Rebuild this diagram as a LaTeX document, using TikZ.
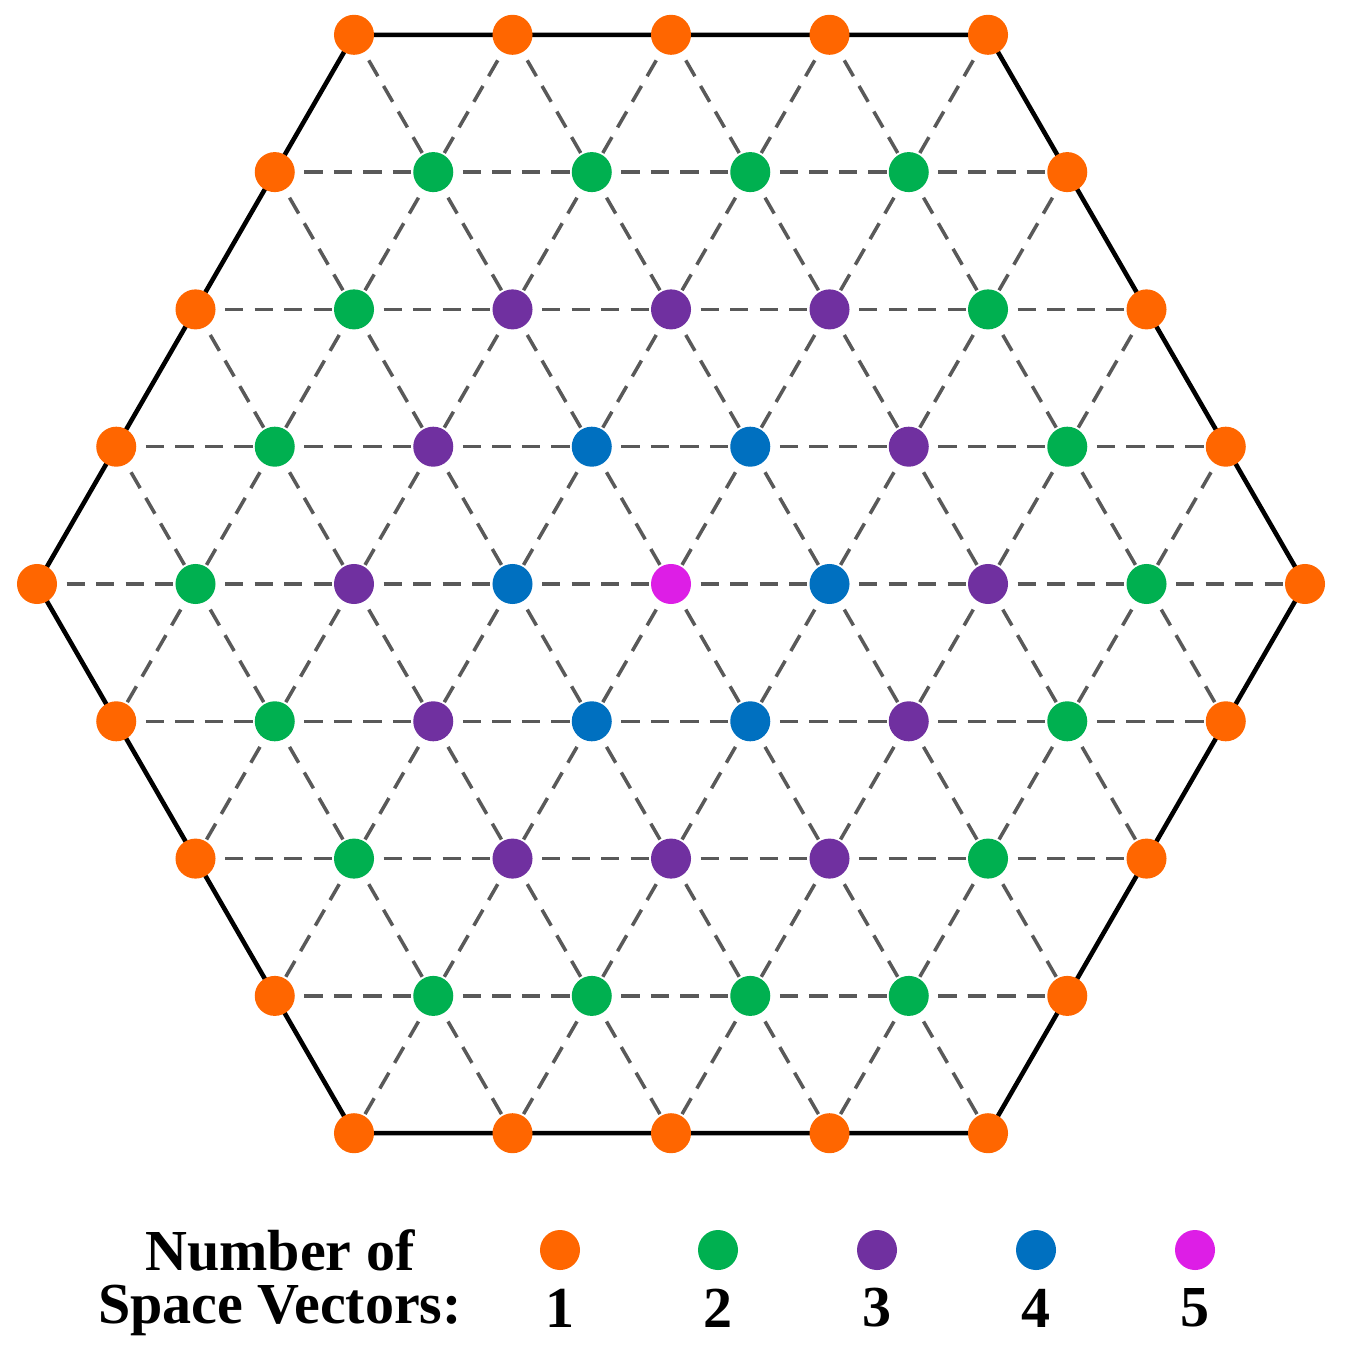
\documentclass[tikz,border=0pt]{standalone}
\usepackage{fontspec}
\setmainfont{Liberation Serif}
\definecolor{c1}{HTML}{FF6600}
\definecolor{c2}{HTML}{00B050}
\definecolor{c3}{HTML}{7030A0}
\definecolor{c4}{HTML}{0070C0}
\definecolor{c5}{HTML}{DD1EE6}
\begin{document}
\begin{tikzpicture}[x=0.01cm,y=-0.01cm,
  dot/.style={circle,fill=#1,inner sep=0pt,minimum size=40\pgflinewidth/1pt*0.01cm},
  pdot/.style={circle,fill=#1,inner sep=0pt,minimum size=0.4cm},
  lat/.style={draw=black!65,line width=1pt,dash pattern=on 5.2pt off 3.2pt},
  bnd/.style={draw=black,line width=1.3pt},
  lbl/.style={font=\bfseries\fontsize{16.5pt}{17pt}\selectfont,inner sep=0pt}]
\useasboundingbox (0,0) rectangle (1344,1355);
% coordinates
\foreach \q in {-4,...,4}{
  \foreach \r in {-4,...,4}{
    \pgfmathtruncatemacro\d{max(abs(\q),abs(\r),abs(\q+\r))}
    \ifnum\d<5
      \coordinate (p\q_\r) at ({671+158.5*(\q+\r/2)},{584+137.3*\r});
    \fi
  }
}
% dashed edges
\foreach \q in {-4,...,4}{
  \foreach \r in {-4,...,4}{
    \pgfmathtruncatemacro\d{max(abs(\q),abs(\r),abs(\q+\r))}
    \ifnum\d<5
      \foreach \dq/\dr in {1/0,0/1,-1/1}{
        \pgfmathtruncatemacro\nq{\q+\dq}
        \pgfmathtruncatemacro\nr{\r+\dr}
        \pgfmathtruncatemacro\nd{max(abs(\nq),abs(\nr),abs(\nq+\nr))}
        \pgfmathtruncatemacro\both{(\d==4)&&(\nd==4)}
        \ifnum\nd<5 \ifnum\both=0
          \draw[lat] (p\q_\r) -- (p\nq_\nr);
        \fi\fi
      }
    \fi
  }
}
% boundary
\draw[bnd] (p0_-4) -- (p4_-4) -- (p4_0) -- (p0_4) -- (p-4_4) -- (p-4_0) -- cycle;
% dots
\foreach \q in {-4,...,4}{
  \foreach \r in {-4,...,4}{
    \pgfmathtruncatemacro\d{max(abs(\q),abs(\r),abs(\q+\r))}
    \ifnum\d<5
      \pgfmathtruncatemacro\k{5-\d}
      \node[pdot=c\k] (n\q_\r) at (p\q_\r) {};
    \fi
  }
}
% legend
\node[lbl,align=center] (leg) at (280,1283) {Number of\\[-2pt]Space Vectors:};
\foreach \i/\x in {1/560,2/718,3/877,4/1036,5/1195}{
  \node[pdot=c\i] (l\i) at (\x,1250) {};
  \node[lbl] (t\i) at (\x,1308) {\i};
}
\end{tikzpicture}
\end{document}
